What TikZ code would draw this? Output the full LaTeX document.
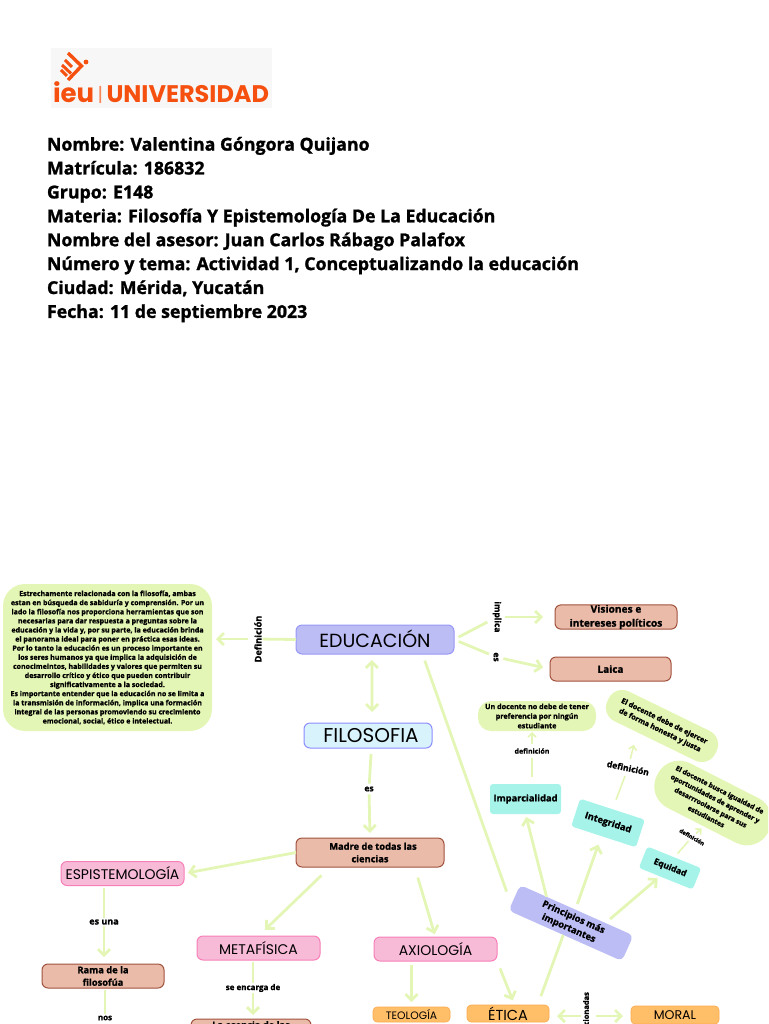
\documentclass[tikz,border=0pt]{standalone}
\usepackage{fontspec}
\setmainfont{Open Sans}[BoldFeatures={FakeBold=1.3}]
\newfontfamily\titlefont{Poppins}
\usetikzlibrary{arrows.meta,positioning}
\definecolor{leaf}{HTML}{E4F6B5}
\definecolor{lilac}{HTML}{BDBDF5}
\definecolor{salmon}{HTML}{EBBBA9}
\definecolor{rust}{HTML}{A0523D}
\definecolor{rose}{HTML}{F7BBD8}
\definecolor{roseline}{HTML}{F77FB8}
\definecolor{amber}{HTML}{FFBF69}
\definecolor{amberline}{HTML}{FFA94D}
\definecolor{aqua}{HTML}{A6F3EA}
\definecolor{logoorange}{HTML}{F5500F}
\begin{document}
\begin{tikzpicture}[x=1pt,y=-1pt,
  every node/.style={inner sep=0pt,outer sep=0pt},
  arr/.style={-{Straight Barb[length=6pt,width=12pt]},leaf,line width=2.8pt},
  lin/.style={leaf,line width=2.8pt},
  thinarr/.style={-{Straight Barb[length=4pt,width=8pt]},leaf,line width=1.6pt},
  thinlin/.style={leaf,line width=1.6pt},
  lbl/.style={font=\fontsize{8.5}{10}\selectfont\bfseries,fill=white,inner sep=1pt},
  boxtxt/.style={font=\fontsize{9.3}{12.5}\selectfont\bfseries,align=center},
  mainbox/.style={draw=#1,line width=1pt,rounded corners=6pt,font=\titlefont\fontsize{19}{22}\selectfont},
  pinkbox/.style={fill=rose,draw=roseline,line width=1pt,rounded corners=6pt,minimum width=123pt,minimum height=24pt,font=\titlefont\fontsize{14}{17}\selectfont},
  redbox/.style={fill=salmon,draw=rust,line width=1pt,rounded corners=6pt,boxtxt},
  amberbox/.style={fill=amber,draw=amberline,line width=.6pt,rounded corners=4pt,font=\titlefont},
  aquabox/.style={fill=aqua,rounded corners=3pt,boxtxt},
  leafbox/.style={fill=leaf,align=center,font=\fontsize{7.05}{9.1}\selectfont\bfseries}]
\useasboundingbox (0,0) rectangle (768,1024);
\clip (0,0) rectangle (768,1024);
% logo
\node[fill=black!3,minimum width=221pt,minimum height=60pt] (logo) at (161.5,78) {};
\draw[logoorange,line width=3.4pt] (68,53) -- (81.5,66) -- (68,80);
\draw[logoorange,line width=3pt] (65,60) -- (72,67) (62,65) -- (71,73.5) (61,70) -- (67,76);
\fill[logoorange] (86,62) circle (2.4);
\node[logoorange,anchor=base west,font=\titlefont\bfseries\fontsize{26}{27}\selectfont] (ieu) at (53,102.5) {ieu};
\node[logoorange!70,anchor=base,font=\titlefont\fontsize{19}{19}\selectfont] (bar) at (100.5,102) {|};
\node[logoorange,anchor=base west,font=\titlefont\bfseries\fontsize{24}{25}\selectfont] (univ) at (106.5,102.5) {UNIVERSIDAD};
% datos
\node[anchor=north west,align=left,font=\fontsize{17.75}{23.9}\selectfont\bfseries] (datos) at (47,137) {Nombre: Valentina Góngora Quijano\\
Matrícula: 186832\\
Grupo: E148\\
Materia: Filosofía Y Epistemología De La Educación\\
Nombre del asesor: Juan Carlos Rábago Palafox\\
Número y tema: Actividad 1, Conceptualizando la educación\\
Ciudad: Mérida, Yucatán\\
Fecha: 11 de septiembre 2023};
% centro
\node[mainbox=lilac!80!blue,fill=lilac,minimum width=158pt,minimum height=29pt] (edu) at (375,639.5) {\raisebox{2pt}{EDUCACIÓN}\hspace{7pt}};
\node[mainbox=blue!45!white,fill=cyan!15,minimum width=128pt,minimum height=25pt,font=\titlefont\fontsize{20}{22}\selectfont] (filo) at (368,735.5) {\hspace{6pt}\raisebox{1pt}{FILOSOFIA}};
\node[redbox,minimum width=148pt,minimum height=29pt] (madre) at (370,852.5) {\hspace{6pt}Madre de todas las\\ciencias};
\node[leafbox,rounded corners=22pt,minimum width=209pt,minimum height=147pt] (defi) at (107.5,657.5) {Estrechamente relacionada con la filosofía, ambas\\
estan en búsqueda de sabiduría y comprensión. Por un\\
lado la filosofía nos proporciona herramientas que son\\
necesarias para dar respuesta a preguntas sobre la\\
educación y la vida y, por su parte, la educación brinda\\
el panorama ideal para poner en práctica esas ideas.\\
Por lo tanto la educación es un proceso importante en\\
los seres humanos ya que implica la adquisición de\\
conocimeintos, habilidades y valores que permiten su\\
desarrollo crítico y ético que pueden contribuir\\
significativamente a la sociedad.\\
Es importante entender que la educación no se limita a\\
la transmisión de información, implica una formación\\
integral de las personas promoviendo su crecimiento\\
emocional, social, ético e intelectual.};
\node[redbox,minimum width=122pt,minimum height=24pt,font=\fontsize{10.2}{14}\selectfont\bfseries] (vis) at (616,617) {Visiones e\\intereses políticos};
\node[redbox,minimum width=121pt,minimum height=24pt,font=\fontsize{10}{12}\selectfont\bfseries] (laica) at (610.5,669) {Laica};
% ramas
\node[pinkbox] (espi) at (122.5,873.5) {\raisebox{1pt}{ESPISTEMOLOGÍA}};
\node[pinkbox] (meta) at (258.5,948) {\raisebox{1pt}{METAFÍSICA}\hspace{14pt}};
\node[pinkbox] (axio) at (435.5,949) {\raisebox{1pt}{AXIOLOGÍA}};
\node[redbox,minimum width=122pt,minimum height=24pt] (rama) at (103,976) {Rama de la\\filosofúa};
\node[redbox,minimum width=120pt,minimum height=24pt,anchor=north] (esencia) at (251,1019) {La esencia de las\\~};
\node[amberbox,minimum width=77pt,minimum height=15pt,font=\titlefont\fontsize{10.8}{12}\selectfont] (teo) at (411.5,1014.5) {TEOLOGÍA};
\node[amberbox,minimum width=82pt,minimum height=17pt,font=\titlefont\fontsize{14.5}{16}\selectfont] (etica) at (508,1013.5) {ÉTICA};
\node[amberbox,minimum width=88pt,minimum height=18pt,font=\titlefont\fontsize{12.6}{14}\selectfont] (moral) at (675,1015) {MORAL};
% principios
\node[fill=lilac,rounded corners=5pt,rotate=-24,minimum width=124pt,minimum height=28pt,boxtxt,font=\fontsize{9.3}{12}\selectfont\bfseries] (prin) at (571,923) {Principios más\\importantes};
\node[aquabox,minimum width=71pt,minimum height=30pt] (impar) at (525.5,799) {Imparcialidad};
\node[aquabox,rotate=-18,minimum width=68pt,minimum height=29pt] (integ) at (608,823) {Integridad};
\node[aquabox,rotate=-22,minimum width=58pt,minimum height=23pt,font=\fontsize{8.6}{10}\selectfont\bfseries] (equi) at (670,868) {Equidad};
\node[leafbox,rounded corners=13pt,minimum width=118pt,minimum height=30pt,font=\fontsize{7.2}{9.6}\selectfont\bfseries] (def1) at (537,716) {Un docente no debe de tener\\preferencia por ningún\\estudiante};
\node[leafbox,rounded corners=15pt,rotate=-26,minimum width=120pt,minimum height=33pt,font=\fontsize{7.25}{10}\selectfont\bfseries] (def2) at (662,726) {El docente debe de ejercer\\de forma honesta y justa};
\node[leafbox,rounded corners=24pt,rotate=-27,minimum width=125pt,minimum height=50pt,font=\fontsize{6.8}{10}\selectfont\bfseries] (def3) at (713,803) {El docente busca igualdad de\\oportunidades de aprender y\\desarrroolarse para sus\\estudiantes};
% etiquetas
\node[lbl,rotate=90,fill=none,font=\fontsize{9.2}{10}\selectfont\bfseries] (ldefi) at (258,639) {Definición};
\node[lbl,rotate=-90,fill=none] (limp) at (497,617) {implica};
\node[lbl,rotate=-90,fill=none] (les) at (496,657) {es};
\node[lbl] (lfilo) at (369,789) {es};
\node[lbl,font=\fontsize{9}{10}\selectfont\bfseries] (luna) at (104,922) {es una};
\node[lbl,font=\fontsize{8}{10}\selectfont\bfseries] (lnos) at (105,1018) {nos};
\node[lbl,font=\fontsize{8}{10}\selectfont\bfseries] (lenc) at (253,988) {se encarga de};
\node[lbl,rotate=90,fill=none,font=\fontsize{7.5}{9}\selectfont\bfseries] (lrel) at (586,1016) {relacionadas};
\node[lbl,font=\fontsize{7}{8}\selectfont\bfseries] (ld1) at (532,751) {definición};
\node[lbl,rotate=-12,fill=none,font=\fontsize{8.6}{10}\selectfont\bfseries] (ld2) at (628,768) {definición};
\node[lbl,rotate=-30,font=\fontsize{5.6}{7}\selectfont\bfseries] (ld3) at (692,837) {definición};
% conectores
\draw[lin] (edu.west) -- (ldefi);
\draw[arr,shorten >=4pt,shorten <=5pt] (ldefi) -- (defi.east |- ldefi);
\draw[lin,shorten <=5pt,shorten >=5pt] (edu.east) -- (limp);
\draw[arr,shorten <=3pt,shorten >=12pt] (limp) -- (vis.west);
\draw[lin,shorten <=5pt,shorten >=4pt] (edu.east) -- (les);
\draw[arr,shorten <=4pt,shorten >=7pt] (les) -- (laica.west);
\draw[{Straight Barb[length=6pt,width=12pt]}-{Straight Barb[length=6pt,width=12pt]},leaf,line width=2.8pt,shorten <=6pt,shorten >=11pt] (edu.258) -- (filo.72);
\draw[lin,shorten <=6pt,shorten >=2pt] (filo.-75) -- (lfilo);
\draw[arr,shorten >=5pt,shorten <=2pt] (lfilo) -- (madre.north);
\draw[arr,shorten >=4pt] (madre.west) -- (espi.east);
\draw[arr,shorten <=12pt,shorten >=9pt] (madre.200) -- (meta.north);
\draw[arr,shorten <=11pt,shorten >=3pt] (madre.342) -- (axio.north);
\draw[lin,shorten <=2pt] (espi.south -| luna) -- (luna);
\draw[arr,shorten >=7pt] (luna) -- (rama.north -| luna);
\draw[lin,shorten <=2pt,shorten >=1pt] (rama.south -| lnos) -- (lnos);
\draw[lin,shorten <=2pt] (meta.south -| lenc) -- (lenc);
\draw[arr,shorten >=4pt] (lenc) -- (esencia.north -| lenc);
\draw[arr,shorten <=4pt,shorten >=5pt] (axio.south -| teo.north) -- (teo.north);
\draw[arr,shorten <=8pt,shorten >=5pt] (axio.south east) -- (etica.52);
\draw[lin,shorten <=9.5pt] (etica.16) -- (prin.261);
\draw[arr,shorten <=1pt,shorten >=8pt] (lrel) -- (lrel -| etica.east);
\draw[arr,shorten <=6pt,shorten >=8pt] (lrel) -- (lrel -| moral.west);
\draw[lin,shorten <=7pt,shorten >=14pt] (edu.343) -- (prin.187);
\draw[arr,shorten >=3pt] (prin.157) -- (impar.south);
\draw[arr,shorten <=6pt,shorten >=9pt] (prin.96) -- (integ.261);
\draw[arr,shorten <=6pt,shorten >=3pt] (prin.24) -- (equi.242);
\draw[thinlin,shorten <=7pt,shorten >=3pt] (impar.north -| ld1) -- (ld1);
\draw[thinarr,shorten <=3pt,shorten >=1pt] (ld1) -- (def1.south -| ld1);
\draw[thinlin,shorten <=10pt,shorten >=4pt] (integ.north) -- (ld2);
\draw[thinarr,shorten <=5pt,shorten >=13pt] (ld2) -- (def2.220);
\draw[thinlin,shorten <=5pt,shorten >=2pt] (equi.north) -- (ld3);
\draw[thinarr,shorten <=2pt,shorten >=3pt] (ld3) -- (def3.276);
\end{tikzpicture}
\end{document}
